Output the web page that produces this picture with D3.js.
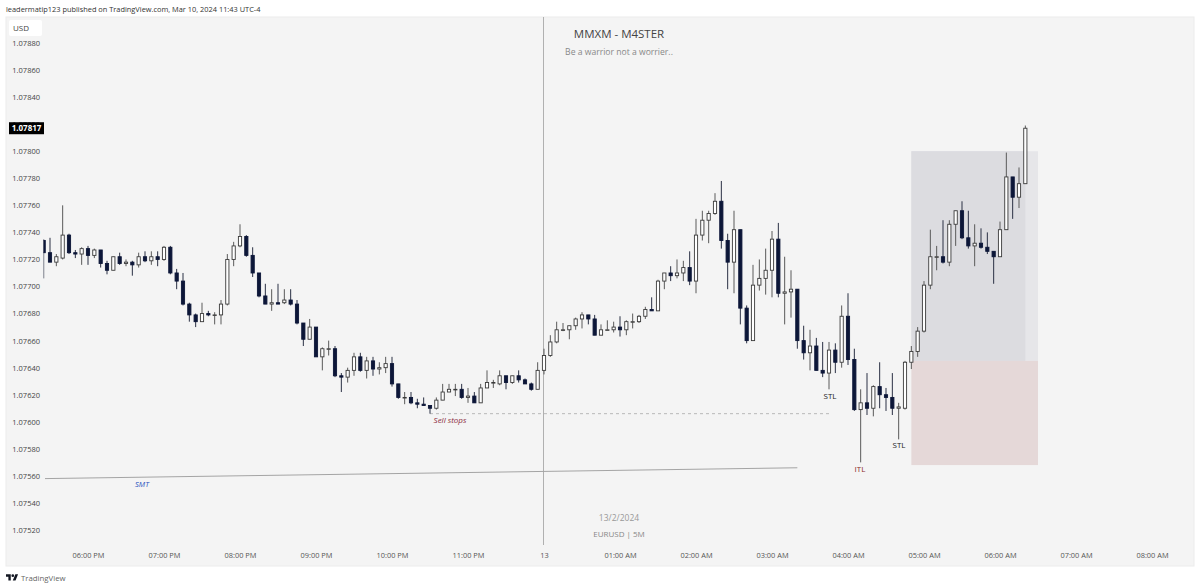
<!DOCTYPE html>
<html>
<head>
<meta charset="UTF-8">
<title>EURUSD 5M</title>
<script src="https://d3js.org/d3.v7.min.js"></script>
<style>
    body { margin: 0; background: #fff; }
    svg { display: block; }
    text { font-family: "Open Sans", sans-serif; }
    .domain { display: none; }
</style>
</head>
<body>
<svg id="chart" width="1200" height="588"></svg>
<script>
// bars start at 17:25 on Feb 12, one every 5 minutes
const opens = [
1.07734,1.07725,1.07718,1.07721,1.07738,1.07725,1.07724,1.07728,1.07723,1.07727,
1.07717,1.07712,1.07722,1.07717,1.07718,1.07716,1.07722,1.07719,1.07722,1.07720,
1.07729,1.07710,1.07704,1.07687,1.07679,1.07674,1.07680,1.07679,1.07679,1.07687,
1.07720,1.07730,1.07737,1.07723,1.07710,1.07693,1.07687,1.07688,1.07688,1.07690,
1.07687,1.07673,1.07661,1.07670,1.07648,1.07654,1.07654,1.07634,1.07633,1.07638,
1.07648,1.07638,1.07645,1.07639,1.07640,1.07643,1.07628,1.07618,1.07618,1.07614,
1.07613,1.07612,1.07610,1.07616,1.07622,1.07624,1.07624,1.07618,1.07619,1.07614,
1.07625,1.07629,1.07628,1.07634,1.07629,1.07634,1.07631,1.07628,1.07624,1.07638,
1.07649,1.07659,1.07668,1.07668,1.07671,1.07676,1.07679,1.07676,1.07664,1.07668,
1.07668,1.07670,1.07668,1.07674,1.07674,1.07678,1.07683,1.07682,1.07704,1.07710,
1.07708,1.07710,1.07714,1.07704,1.07738,1.07749,1.07754,1.07763,1.07734,1.07718,
1.07742,1.07684,1.07660,1.07701,1.07706,1.07712,1.07735,1.07695,1.07696,1.07698,
1.07660,1.07651,1.07656,1.07638,1.07636,1.07653,1.07644,1.07678,1.07646,1.07609,
1.07614,1.07610,1.07626,1.07620,1.07618,1.07610,1.07610,1.07644,1.07652,1.07667,
1.07701,1.07722,1.07722,1.07718,1.07746,1.07756,1.07736,1.07730,1.07732,1.07729,
1.07726,1.07722,1.07742,1.07781,1.07766,1.07776];
const highs = [
1.07735,1.07736,1.07724,1.07760,1.07739,1.07727,1.07729,1.07730,1.07728,1.07727,
1.07719,1.07722,1.07725,1.07720,1.07719,1.07725,1.07726,1.07726,1.07726,1.07730,
1.07730,1.07713,1.07710,1.07688,1.07680,1.07688,1.07682,1.07681,1.07690,1.07724,
1.07733,1.07746,1.07738,1.07729,1.07710,1.07702,1.07698,1.07702,1.07698,1.07698,
1.07690,1.07673,1.07676,1.07670,1.07655,1.07660,1.07656,1.07636,1.07640,1.07651,
1.07651,1.07648,1.07648,1.07644,1.07648,1.07648,1.07628,1.07622,1.07622,1.07617,
1.07618,1.07612,1.07618,1.07628,1.07628,1.07628,1.07628,1.07625,1.07622,1.07628,
1.07638,1.07631,1.07638,1.07634,1.07634,1.07638,1.07632,1.07629,1.07644,1.07654,
1.07664,1.07674,1.07673,1.07671,1.07677,1.07681,1.07679,1.07679,1.07672,1.07675,
1.07674,1.07678,1.07675,1.07680,1.07679,1.07685,1.07692,1.07705,1.07710,1.07715,
1.07720,1.07719,1.07726,1.07750,1.07756,1.07756,1.07769,1.07778,1.07739,1.07756,
1.07742,1.07686,1.07716,1.07720,1.07728,1.07741,1.07747,1.07722,1.07712,1.07698,
1.07671,1.07668,1.07662,1.07659,1.07659,1.07658,1.07686,1.07695,1.07654,1.07624,
1.07636,1.07627,1.07644,1.07625,1.07636,1.07614,1.07645,1.07656,1.07670,1.07704,
1.07742,1.07730,1.07749,1.07749,1.07756,1.07763,1.07756,1.07746,1.07743,1.07740,
1.07726,1.07748,1.07799,1.07781,1.07788,1.07819];
const lows = [
1.07706,1.07718,1.07715,1.07720,1.07724,1.07721,1.07716,1.07716,1.07721,1.07714,
1.07709,1.07712,1.07716,1.07715,1.07708,1.07714,1.07718,1.07716,1.07715,1.07719,
1.07709,1.07698,1.07686,1.07674,1.07670,1.07674,1.07678,1.07672,1.07672,1.07686,
1.07715,1.07729,1.07722,1.07707,1.07692,1.07687,1.07682,1.07687,1.07687,1.07686,
1.07672,1.07656,1.07661,1.07648,1.07638,1.07649,1.07633,1.07622,1.07629,1.07634,
1.07637,1.07632,1.07634,1.07635,1.07636,1.07626,1.07617,1.07613,1.07613,1.07610,
1.07612,1.07606,1.07609,1.07616,1.07622,1.07619,1.07617,1.07614,1.07614,1.07614,
1.07625,1.07625,1.07627,1.07624,1.07628,1.07629,1.07628,1.07623,1.07624,1.07635,
1.07648,1.07658,1.07667,1.07661,1.07668,1.07669,1.07672,1.07664,1.07664,1.07668,
1.07666,1.07663,1.07664,1.07669,1.07673,1.07676,1.07682,1.07682,1.07698,1.07704,
1.07706,1.07704,1.07701,1.07695,1.07734,1.07732,1.07753,1.07728,1.07698,1.07695,
1.07672,1.07658,1.07660,1.07697,1.07694,1.07692,1.07692,1.07672,1.07677,1.07654,
1.07646,1.07638,1.07638,1.07633,1.07624,1.07636,1.07640,1.07642,1.07608,1.07570,
1.07605,1.07604,1.07610,1.07608,1.07605,1.07587,1.07609,1.07639,1.07648,1.07666,
1.07698,1.07712,1.07717,1.07715,1.07730,1.07735,1.07728,1.07715,1.07728,1.07724,
1.07702,1.07722,1.07742,1.07750,1.07758,1.07776];
const closes = [
1.07725,1.07718,1.07722,1.07738,1.07725,1.07724,1.07728,1.07723,1.07727,1.07717,
1.07712,1.07722,1.07717,1.07718,1.07716,1.07722,1.07719,1.07722,1.07720,1.07729,
1.07710,1.07704,1.07687,1.07679,1.07674,1.07680,1.07679,1.07679,1.07687,1.07720,
1.07730,1.07737,1.07723,1.07710,1.07693,1.07687,1.07688,1.07687,1.07690,1.07687,
1.07673,1.07661,1.07670,1.07648,1.07654,1.07654,1.07634,1.07633,1.07638,1.07648,
1.07638,1.07645,1.07639,1.07640,1.07643,1.07628,1.07618,1.07618,1.07614,1.07613,
1.07612,1.07610,1.07616,1.07622,1.07624,1.07624,1.07618,1.07619,1.07614,1.07625,
1.07629,1.07629,1.07634,1.07629,1.07634,1.07631,1.07628,1.07624,1.07638,1.07649,
1.07659,1.07668,1.07668,1.07671,1.07676,1.07679,1.07676,1.07664,1.07668,1.07668,
1.07670,1.07668,1.07674,1.07674,1.07678,1.07683,1.07682,1.07704,1.07710,1.07708,
1.07710,1.07714,1.07704,1.07738,1.07749,1.07754,1.07763,1.07734,1.07718,1.07742,
1.07684,1.07660,1.07701,1.07706,1.07712,1.07735,1.07695,1.07696,1.07698,1.07660,
1.07651,1.07656,1.07638,1.07636,1.07653,1.07644,1.07678,1.07646,1.07609,1.07614,
1.07610,1.07626,1.07620,1.07618,1.07610,1.07611,1.07644,1.07652,1.07667,1.07701,
1.07722,1.07722,1.07718,1.07746,1.07756,1.07736,1.07730,1.07732,1.07729,1.07726,
1.07722,1.07742,1.07781,1.07766,1.07776,1.07817];

const priceTicks = [1.0788,1.0786,1.0784,1.0782,1.0780,1.0778,1.0776,1.0774,1.0772,1.0770,1.0768,1.0766,1.0764,1.0762,1.0760,1.0758,1.0756,1.0754,1.0752];
const timeLabels = ["06:00 PM","07:00 PM","08:00 PM","09:00 PM","10:00 PM","11:00 PM","13","01:00 AM","02:00 AM","03:00 AM","04:00 AM","05:00 AM","06:00 AM","07:00 AM","08:00 AM"];
const lastPrice = 1.07817;

const svg = d3.select("svg#chart");
const firstBar = Date.UTC(2024, 1, 12, 17, 25);
const barTime = i => new Date(firstBar + i * 300000);
const at = (day, h, m) => new Date(Date.UTC(2024, 1, day, h, m || 0));

const tickTimes = d3.utcHour.range(at(12, 18), at(13, 9));
const x = d3.scaleUtc().domain([at(12, 18), at(13, 8)]).range([88, 1152]);
const y = d3.scaleLinear().domain([1.0788, 1.0752]).range([43, 530]);

// pane
svg.append("rect").attr("x", 6).attr("y", 17).attr("width", 1188).attr("height", 549)
    .attr("fill", "#f4f4f4").attr("stroke", "#ececec");

// header and footer
svg.append("text").attr("x", 6).attr("y", 12).attr("font-size", 7.4).attr("fill", "#333")
    .text("leadermatip123 published on TradingView.com, Mar 10, 2024 11:43 UTC-4");
const logo = svg.append("g").attr("transform", "translate(6,573) scale(0.34)").attr("fill", "#131722");
logo.append("path").attr("d", "M14 22H7V11H0V4h14v18zM28 22h-8l7.5-18h8L28 22z");
logo.append("circle").attr("cx", 20).attr("cy", 8).attr("r", 4);
svg.append("text").attr("x", 21).attr("y", 581).attr("font-size", 7.8).attr("fill", "#666").text("TradingView");

// long position box
const boxLeft = at(13, 4, 50), boxMid = at(13, 6, 20), boxRight = at(13, 6, 30);
svg.append("rect").attr("x", x(boxLeft)).attr("width", x(boxRight) - x(boxLeft))
    .attr("y", y(1.078)).attr("height", y(1.07645) - y(1.078)).attr("fill", "#e6e6e9");
svg.append("rect").attr("x", x(boxLeft)).attr("width", x(boxMid) - x(boxLeft))
    .attr("y", y(1.078)).attr("height", y(1.07645) - y(1.078)).attr("fill", "#dcdce0");
svg.append("rect").attr("x", x(boxLeft)).attr("width", x(boxRight) - x(boxLeft))
    .attr("y", y(1.07645)).attr("height", y(1.07568) - y(1.07645)).attr("fill", "#e5d8d8");

// session break
svg.append("line").attr("x1", x(at(13, 0)) - 0.5).attr("x2", x(at(13, 0)) - 0.5)
    .attr("y1", 17).attr("y2", 545).attr("stroke", "#b0b0b0").attr("stroke-width", 1);

// SMT trend line and sell stops level
svg.append("line").attr("x1", 45).attr("x2", x(at(13, 3, 20)))
    .attr("y1", y(1.07558)).attr("y2", y(1.07566)).attr("stroke", "#a4a4a4").attr("stroke-width", 1);
svg.append("line").attr("x1", x(at(12, 22, 30))).attr("x2", x(at(13, 3, 47)))
    .attr("y1", y(1.07606)).attr("y2", y(1.07606))
    .attr("stroke", "#a8a8a8").attr("stroke-width", 0.8).attr("stroke-dasharray", "3 3");

// candles
svg.append("clipPath").attr("id", "plot").append("rect")
    .attr("x", 43.5).attr("y", 17).attr("width", 1150).attr("height", 549);
const bars = svg.append("g").attr("clip-path", "url(#plot)");
const candle = bars.selectAll("g").data(opens).join("g")
    .attr("transform", (d, i) => `translate(${x(barTime(i))},0)`);
candle.append("line")
    .attr("y1", (d, i) => y(highs[i])).attr("y2", (d, i) => y(lows[i]))
    .attr("stroke", (d, i) => closes[i] < opens[i] ? "#2a3044" : "#5a5a5a").attr("stroke-width", 1);
candle.append("rect")
    .attr("x", -1.6).attr("width", 3.2)
    .attr("y", (d, i) => y(Math.max(opens[i], closes[i])))
    .attr("height", (d, i) => Math.max(0.6, Math.abs(y(opens[i]) - y(closes[i]))))
    .attr("fill", (d, i) => closes[i] < opens[i] ? "#0c1638" : "#ffffff")
    .attr("stroke", (d, i) => closes[i] < opens[i] ? "#0c1638" : "#3a3a3a").attr("stroke-width", 0.9);

// axes
const yAxis = svg.append("g").attr("transform", "translate(40,0)")
    .call(d3.axisLeft(y).tickValues(priceTicks).tickSize(0).tickPadding(0).tickFormat(d3.format(".5f")));
yAxis.selectAll("text").attr("font-size", 7.5).attr("fill", "#444");
const xAxis = svg.append("g").attr("transform", "translate(0,553)")
    .call(d3.axisBottom(x).tickValues(tickTimes).tickSize(0).tickPadding(0).tickFormat((d, i) => timeLabels[i]));
xAxis.selectAll("text").attr("font-size", 7.4).attr("fill", "#555");

// currency box and last price
svg.append("rect").attr("x", 9).attr("y", 20).attr("width", 33).attr("height", 16).attr("rx", 2).attr("fill", "#fff");
svg.append("text").attr("x", 21).attr("y", 31).attr("text-anchor", "middle").attr("font-size", 8).attr("fill", "#444").text("USD");
svg.append("rect").attr("x", 9).attr("y", y(lastPrice) - 6).attr("width", 35).attr("height", 12).attr("fill", "#000");
svg.append("text").attr("x", 26.5).attr("y", y(lastPrice) + 3).attr("text-anchor", "middle")
    .attr("font-size", 8).attr("font-weight", "bold").attr("fill", "#fff").text(d3.format(".5f")(lastPrice));

// drawn text
const note = (px, py, size, color, text, italic) => svg.append("text")
    .attr("x", px).attr("y", py).attr("text-anchor", "middle").attr("font-size", size).attr("fill", color)
    .attr("font-style", italic ? "italic" : "normal").text(text);
note(619, 38, 11.5, "#444", "MMXM - M4STER");
note(619, 55, 8.6, "#888", "Be a warrior not a worrier..");
note(619, 521, 8.5, "#999", "13/2/2024");
note(619, 537, 8, "#888", "EURUSD | 5M");
note(450, 423, 8, "#8c2a3c", "Sell stops", true);
note(830, 399, 8, "#222", "STL");
note(899, 448, 8, "#222", "STL");
note(860, 472, 8, "#8c2a2a", "ITL");
note(142, 487, 7.5, "#2a52be", "SMT", true);
</script>
</body>
</html>
